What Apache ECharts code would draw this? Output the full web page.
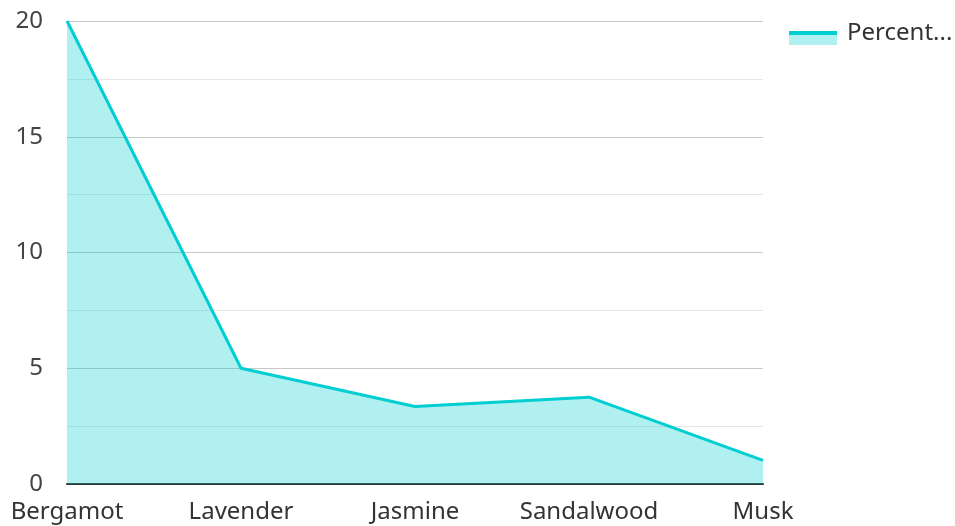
<!DOCTYPE html>
<html>
<head>
<meta charset="utf-8">
<script src="https://cdn.jsdelivr.net/npm/echarts@6/dist/echarts.min.js"></script>
<style>
  html, body { margin: 0; padding: 0; background: #fff; }
  #chart { width: 955px; height: 526px; }
</style>
</head>
<body>
<div id="chart"></div>
<script>
var categories = ['Bergamot', 'Lavender', 'Jasmine', 'Sandalwood', 'Musk'];
var percentValues = [20, 5, 3.35, 3.75, 1.02];
var seriesName = 'Percentage';

var LINE_COLOR = '#00ced1';

var myChart = echarts.init(document.getElementById('chart'));
var option = {
    animation: false,
    textStyle: { fontFamily: 'Noto Sans' },
    legend: {
        data: [seriesName],
        left: 784,
        top: 16,
        icon: 'rect',
        itemWidth: 48,
        itemHeight: 4,
        itemStyle: { color: LINE_COLOR },
        textStyle: {
            fontSize: 24,
            color: '#333',
            width: 112,
            overflow: 'truncate',
            ellipsis: '...',
            padding: [0, 0, 0, 5]
        }
    },
    // light fill under the legend line, like the area of the series
    graphic: [{
        type: 'rect',
        left: 789,
        top: 34,
        shape: { width: 48, height: 11 },
        style: { fill: LINE_COLOR, opacity: 0.31 },
        silent: true
    }],
    grid: {
        left: 67,
        right: 192,
        top: 21,
        bottom: 42
    },
    xAxis: {
        type: 'category',
        data: categories,
        boundaryGap: false,
        axisLine: { lineStyle: { color: '#333', width: 2 } },
        axisTick: { show: false },
        axisLabel: { fontSize: 24, color: '#333', margin: 16, interval: 0 }
    },
    yAxis: {
        type: 'value',
        min: 0,
        max: 20,
        interval: 5,
        axisLine: { show: false },
        axisTick: { show: false },
        axisLabel: { fontSize: 24, color: '#444', margin: 24 },
        splitLine: { lineStyle: { color: '#c8c8c8', width: 1 } },
        minorTick: { show: false, splitNumber: 2 },
        minorSplitLine: { show: true, lineStyle: { color: '#e6e6e6', width: 1 } }
    },
    series: [{
        name: seriesName,
        type: 'line',
        data: percentValues,
        symbol: 'none',
        lineStyle: { color: LINE_COLOR, width: 3 },
        itemStyle: { color: LINE_COLOR },
        areaStyle: { color: LINE_COLOR, opacity: 0.31 }
    }]
};
myChart.setOption(option);
</script>
</body>
</html>
